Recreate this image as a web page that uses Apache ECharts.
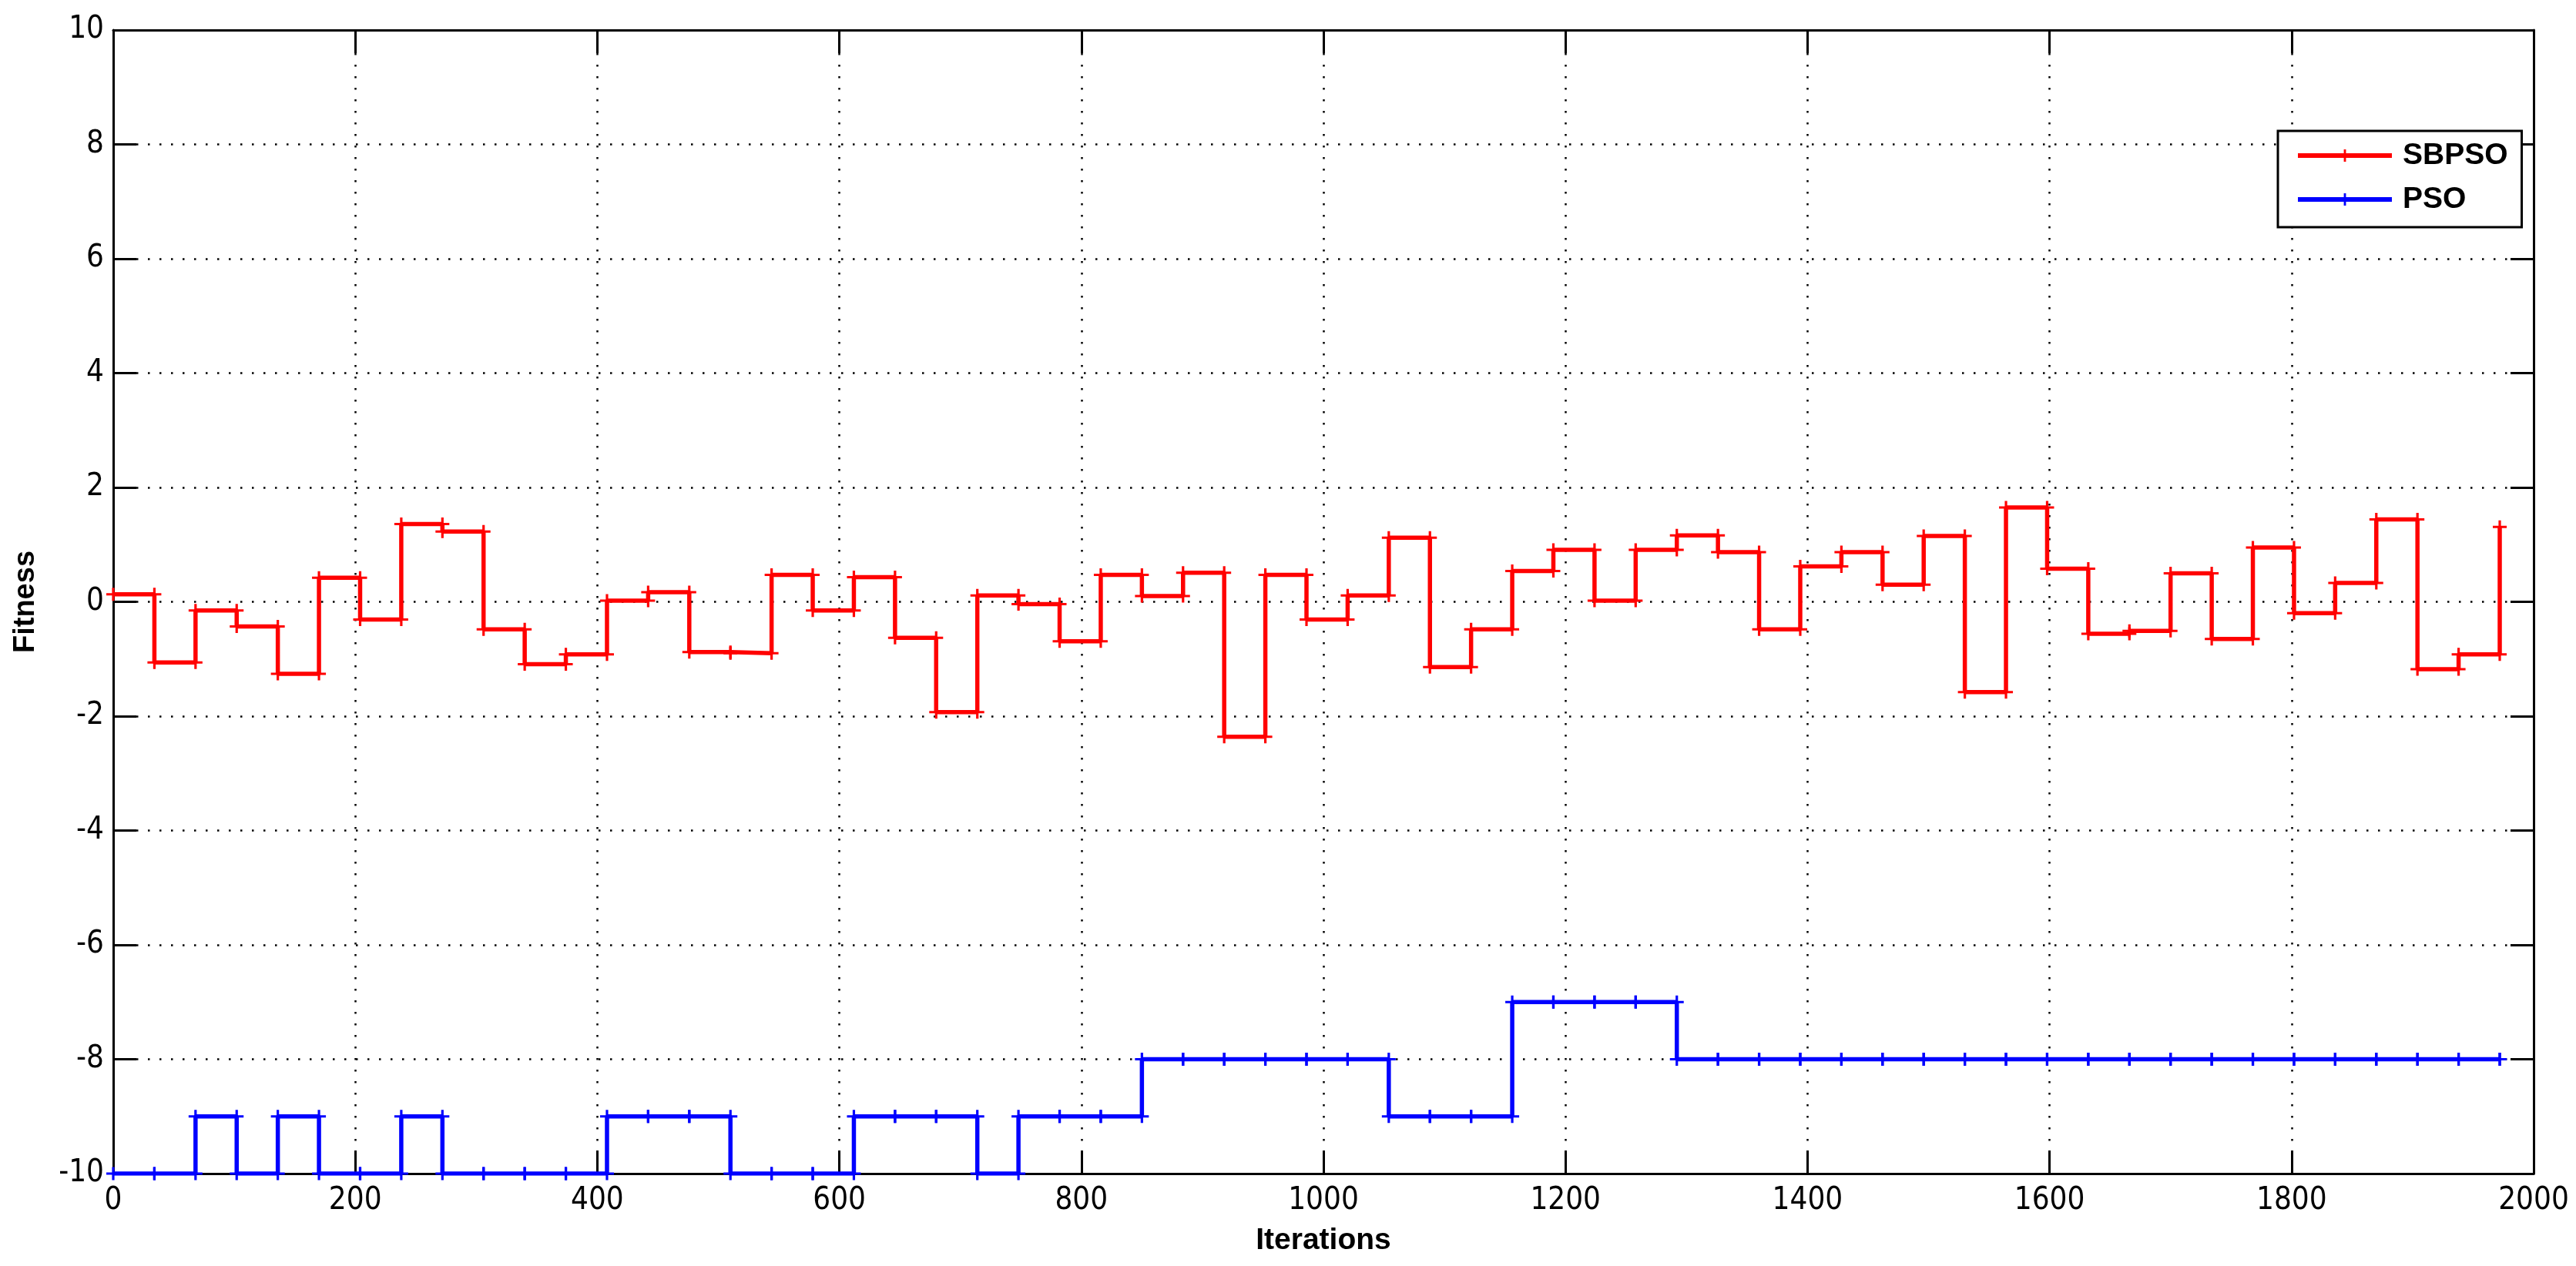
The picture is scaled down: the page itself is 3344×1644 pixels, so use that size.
<!DOCTYPE html>
<html>
<head>
<meta charset="utf-8">
<script src="https://cdn.jsdelivr.net/npm/echarts@6/dist/echarts.min.js"></script>
<style>
html,body{margin:0;padding:0;background:#fff;}
#chart{width:3344px;height:1644px;}
</style>
</head>
<body>
<div id="chart"></div>
<script>
// Iteration positions of the recorded samples
const iterations = [0,34,68,102,136,170,204,238,272,306,340,374,408,442,476,510,544,578,612,646,680,714,748,782,816,850,884,918,952,986,1020,1054,1088,1122,1156,1190,1224,1258,1292,1326,1360,1394,1428,1462,1496,1530,1564,1598,1632,1666,1700,1734,1768,1802,1836,1870,1904,1938,1972];
// SBPSO fitness values
const sbpso = [0.13,-1.06,-0.15,-0.43,-1.26,0.42,-0.31,1.36,1.23,-0.48,-1.09,-0.92,0.02,0.17,-0.88,-0.90,0.47,-0.15,0.43,-0.63,-1.93,0.11,-0.04,-0.69,0.47,0.10,0.51,-2.36,0.47,-0.31,0.11,1.12,-1.14,-0.48,0.54,0.91,0.02,0.91,1.16,0.87,-0.48,0.62,0.87,0.30,1.15,-1.58,1.65,0.58,-0.56,-0.51,0.50,-0.65,0.95,-0.20,0.33,1.44,-1.18,-0.92,1.31];
// PSO fitness values
const pso = [-10,-10,-9,-10,-9,-10,-10,-9,-10,-10,-10,-10,-9,-9,-9,-10,-10,-10,-9,-9,-9,-10,-9,-9,-9,-8,-8,-8,-8,-8,-8,-9,-9,-9,-7,-7,-7,-7,-8,-8,-8,-8,-8,-8,-8,-8,-8,-8,-8,-8,-8,-8,-8,-8,-8,-8,-8,-8,-8];
const seriesNames = ['SBPSO','PSO'];
const xTicks = {min:0, max:2000, interval:200};
const yTicks = {min:-10, max:10, interval:2};

// MATLAB "stairs" style: each value held until next sample, markers at both corners
function stairs(xs, ys){
  const out = [];
  for (let i = 0; i < xs.length; i++){
    out.push([xs[i], ys[i]]);
    if (i + 1 < xs.length) out.push([xs[i+1], ys[i]]);
  }
  return out;
}

const plus = 'path://M7,0H10V7H17V10H10V17H7V10H0V7H7Z';
const tickFont = "'Liberation Sans Narrow','DejaVu Sans Condensed','Liberation Sans',Arial,sans-serif";
const nameFont = "'Liberation Sans',Arial,sans-serif";
const plain = v => String(v);

const chart = echarts.init(document.getElementById('chart'), null, {renderer:'canvas'});
const axisLine = {show:true, onZero:false, lineStyle:{color:'#000', width:3}};
const tick = {show:true, inside:true, length:30, lineStyle:{color:'#000', width:3}};
const grid = {show:true, lineStyle:{color:'#000', width:2.5, type:[2.5,12.5]}};

chart.setOption({
  animation:false,
  backgroundColor:'#fff',
  grid:{left:147, right:55, top:39, bottom:120, containLabel:false},
  legend:{
    left:2957, top:170, orient:'vertical',
    data:seriesNames,
    backgroundColor:'#fff', borderColor:'#000', borderWidth:3,
    padding:[12,18,16,23], itemGap:17,
    itemWidth:122, itemHeight:20,
    lineStyle:{width:6},
    textStyle:{fontFamily:nameFont, fontWeight:'bold', fontSize:39, color:'#000', lineHeight:40, padding:[0,0,0,9]}
  },
  xAxis:[
    {type:'value', position:'bottom', min:xTicks.min, max:xTicks.max, interval:xTicks.interval,
     name:'Iterations', nameLocation:'middle', nameGap:68,
     nameTextStyle:{fontFamily:nameFont, fontWeight:'bold', fontSize:39, color:'#000'},
     axisLine:axisLine, axisTick:tick, splitLine:grid,
     axisLabel:{margin:16, fontFamily:tickFont, fontSize:40, color:'#000', formatter:plain}},
    {type:'value', position:'top', min:xTicks.min, max:xTicks.max, interval:xTicks.interval,
     axisLine:axisLine, axisTick:tick, splitLine:{show:false}, axisLabel:{show:false}}
  ],
  yAxis:[
    {type:'value', position:'left', min:yTicks.min, max:yTicks.max, interval:yTicks.interval,
     name:'Fitness', nameLocation:'middle', nameGap:94, nameRotate:90,
     nameTextStyle:{fontFamily:nameFont, fontWeight:'bold', fontSize:38, color:'#000'},
     axisLine:axisLine, axisTick:tick, splitLine:grid,
     axisLabel:{margin:12, fontFamily:tickFont, fontSize:40, color:'#000', formatter:plain}},
    {type:'value', position:'right', min:yTicks.min, max:yTicks.max, interval:yTicks.interval,
     axisLine:axisLine, axisTick:tick, splitLine:{show:false}, axisLabel:{show:false}}
  ],
  series:[
    {name:seriesNames[0], type:'line', xAxisIndex:0, yAxisIndex:0, data:stairs(iterations, sbpso),
     symbol:plus, symbolSize:[18,17], showAllSymbol:true,
     lineStyle:{color:'#ff0000', width:5.5}, itemStyle:{color:'#ff0000'}, z:3},
    {name:seriesNames[1], type:'line', xAxisIndex:0, yAxisIndex:0, data:stairs(iterations, pso),
     symbol:plus, symbolSize:[18,17], showAllSymbol:true,
     lineStyle:{color:'#0000ff', width:5.5}, itemStyle:{color:'#0000ff'}, z:2}
  ]
});
</script>
</body>
</html>
